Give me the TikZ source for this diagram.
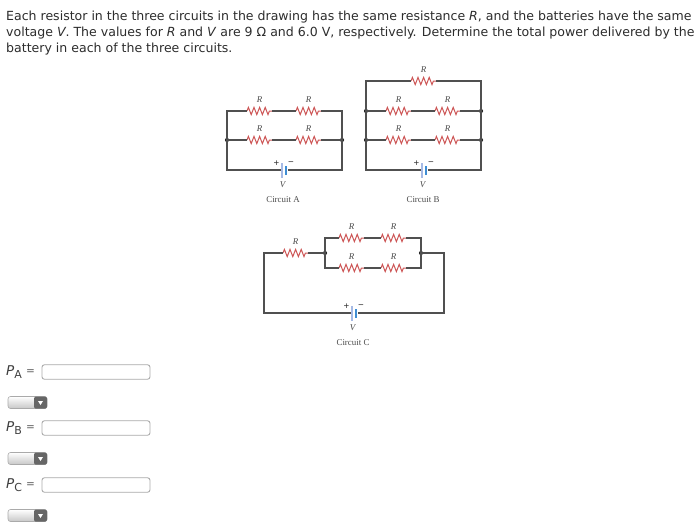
\documentclass[tikz,border=0pt]{standalone}
\usepackage{fontspec}
\setmainfont{DejaVu Sans}
\newfontfamily\figfont{Liberation Serif}
\usetikzlibrary{decorations.pathmorphing}

\definecolor{wirecol}{RGB}{80,80,80}
\definecolor{rescol}{RGB}{205,85,85}
\definecolor{inkcol}{RGB}{45,45,45}
\definecolor{boxcol}{RGB}{170,170,170}
\tikzset{
    wire/.style={draw=wirecol, line width=1.1pt},
    resistor/.style={draw=rescol, line width=1pt, decorate,
        decoration={zigzag, segment length=5.6pt, amplitude=3.6pt}},
    junction/.style={circle, fill=black!85, inner sep=0pt, minimum size=4.2pt},
    plate/.style={rectangle, inner sep=0pt, minimum width=1.2pt, minimum height=15pt, fill=cyan!45!blue!35},
    shortplate/.style={rectangle, inner sep=0pt, minimum width=2.6pt, minimum height=9pt, fill=cyan!60!blue!80},
    figlabel/.style={inner sep=0pt, text=black!70, font=\figfont\fontsize{8.9}{9}\selectfont},
    signlabel/.style={inner sep=0pt, text=black!80, font=\figfont\bfseries\fontsize{10}{10}\selectfont},
    answer/.style={draw=boxcol, line width=0.9pt, fill=white, rounded corners=2.5pt, inner sep=0pt, minimum width=108pt, minimum height=14.5pt},
    menu/.style={draw=boxcol, line width=0.6pt, rounded corners=2.5pt, top color=white, bottom color=black!22, inner sep=0pt, minimum width=39pt, minimum height=12pt},
    menubtn/.style={rounded corners=1.5pt, fill=black!60, inner sep=0pt, minimum width=13pt, minimum height=12pt},
    plabel/.style={inner sep=0pt, text=black!75, font=\fontsize{13.5}{14}\selectfont},
    eqlabel/.style={inner sep=0pt, text=black!65, font=\fontsize{10.5}{11}\selectfont},
}

\begin{document}
\begin{tikzpicture}[x=1pt, y=-1pt]
        \useasboundingbox[fill=white] (0,0) rectangle (700,530);

        % Question text
        \node[anchor=base west, inner sep=0pt, align=left, text=inkcol, font=\fontsize{12.54}{16}\selectfont] (Q1) at (6,20)
            {Each resistor in the three circuits in the drawing has the same resistance \textit{R}, and the batteries have the same};
        \node[anchor=base west, inner sep=0pt, align=left, text=inkcol, font=\fontsize{12.54}{16}\selectfont] (Q2) at (6,36)
            {voltage \textit{V}. The values for \textit{R} and \textit{V} are 9 Ω and 6.0 V, respectively. Determine the total power delivered by the};
        \node[anchor=base west, inner sep=0pt, align=left, text=inkcol, font=\fontsize{12.54}{16}\selectfont] (Q3) at (6,52)
            {battery in each of the three circuits.};

        % Resistors
        \foreach \n/\x/\y in {A1/247/111, A2/296/111, A3/247/140, A4/296/140,
                              B0/411/81, B1/386/111, B2/435/111, B3/386/140, B4/435/140,
                              C0/283/253, C1/339/238, C2/381/238, C3/339/268, C4/381/268} {
            \coordinate (\n l) at (\x,\y);
            \coordinate (\n r) at (\x+25,\y);
            \draw[resistor] (\n l) -- (\n r);
            \node[figlabel] (\n t) at (\x+12.5,\y-11) {\textit{R}};
        }

        % Batteries
        \foreach \n/\x/\y in {A/282/170, B/422/170, C/352/313} {
            \node[plate] (\n p) at (\x,\y) {};
            \node[shortplate] (\n m) at (\x+4,\y) {};
            \node[signlabel] (\n plus) at (\x-5.5,\y-6) {+};
            \node[signlabel] (\n minus) at (\x+9,\y-6) {−};
            \node[figlabel] (\n v) at (\x+1,\y+15) {\textit{V}};
            \node[figlabel] (\n name) at (\x+1,\y+30) {Circuit \n};
        }

        % Junctions
        \node[junction] (AL) at (227,140) {};
        \node[junction] (AR) at (342,140) {};
        \node[junction] (BL1) at (366,111) {};
        \node[junction] (BR1) at (481,111) {};
        \node[junction] (BL2) at (366,140) {};
        \node[junction] (BR2) at (481,140) {};
        \node[junction] (CL) at (325,253) {};
        \node[junction] (CR) at (421,253) {};
        \coordinate (Ca) at (264,253);
        \coordinate (Cb) at (444,253);

        % Circuit A
        \draw[wire] (Ap) -| (AL.center) |- (A1l);
        \draw[wire] (A1r) -- (A2l);
        \draw[wire] (A2r) -| (AR.center) |- (Am);
        \draw[wire] (AL.center) -- (A3l);
        \draw[wire] (A3r) -- (A4l);
        \draw[wire] (A4r) -- (AR.center);

        % Circuit B
        \draw[wire] (Bp) -| (BL2.center) -- (BL1.center) |- (B0l);
        \draw[wire] (B0r) -| (BR1.center) -- (BR2.center) |- (Bm);
        \draw[wire] (BL1.center) -- (B1l);
        \draw[wire] (B1r) -- (B2l);
        \draw[wire] (B2r) -- (BR1.center);
        \draw[wire] (BL2.center) -- (B3l);
        \draw[wire] (B3r) -- (B4l);
        \draw[wire] (B4r) -- (BR2.center);

        % Circuit C
        \draw[wire] (Cp) -| (Ca) -- (C0l);
        \draw[wire] (C0r) -- (CL.center);
        \draw[wire] (CL.center) |- (C1l);
        \draw[wire] (CL.center) |- (C3l);
        \draw[wire] (C1r) -- (C2l);
        \draw[wire] (C3r) -- (C4l);
        \draw[wire] (C2r) -| (CR.center);
        \draw[wire] (C4r) -| (CR.center);
        \draw[wire] (CR.center) -- (Cb) |- (Cm);

        % Answer rows
        \foreach \n/\y in {A/372, B/428, C/485} {
            \node[anchor=west, plabel] (P\n) at (6,\y) {\textit{P}\raisebox{-3pt}{\fontsize{11}{12}\selectfont\n}};
            \node[eqlabel] (E\n) at (30.5,\y) {=};
            \node[answer] (F\n) at (96,\y) {};
            \node[menu] (M\n) at (27.5,\y+30.5) {};
            \node[menubtn] (D\n) at (40.5,\y+30.5) {};
            \fill[white] (38,\y+29) -- (43,\y+29) -- (40.5,\y+33) -- cycle;
        }
\end{tikzpicture}
\end{document}
